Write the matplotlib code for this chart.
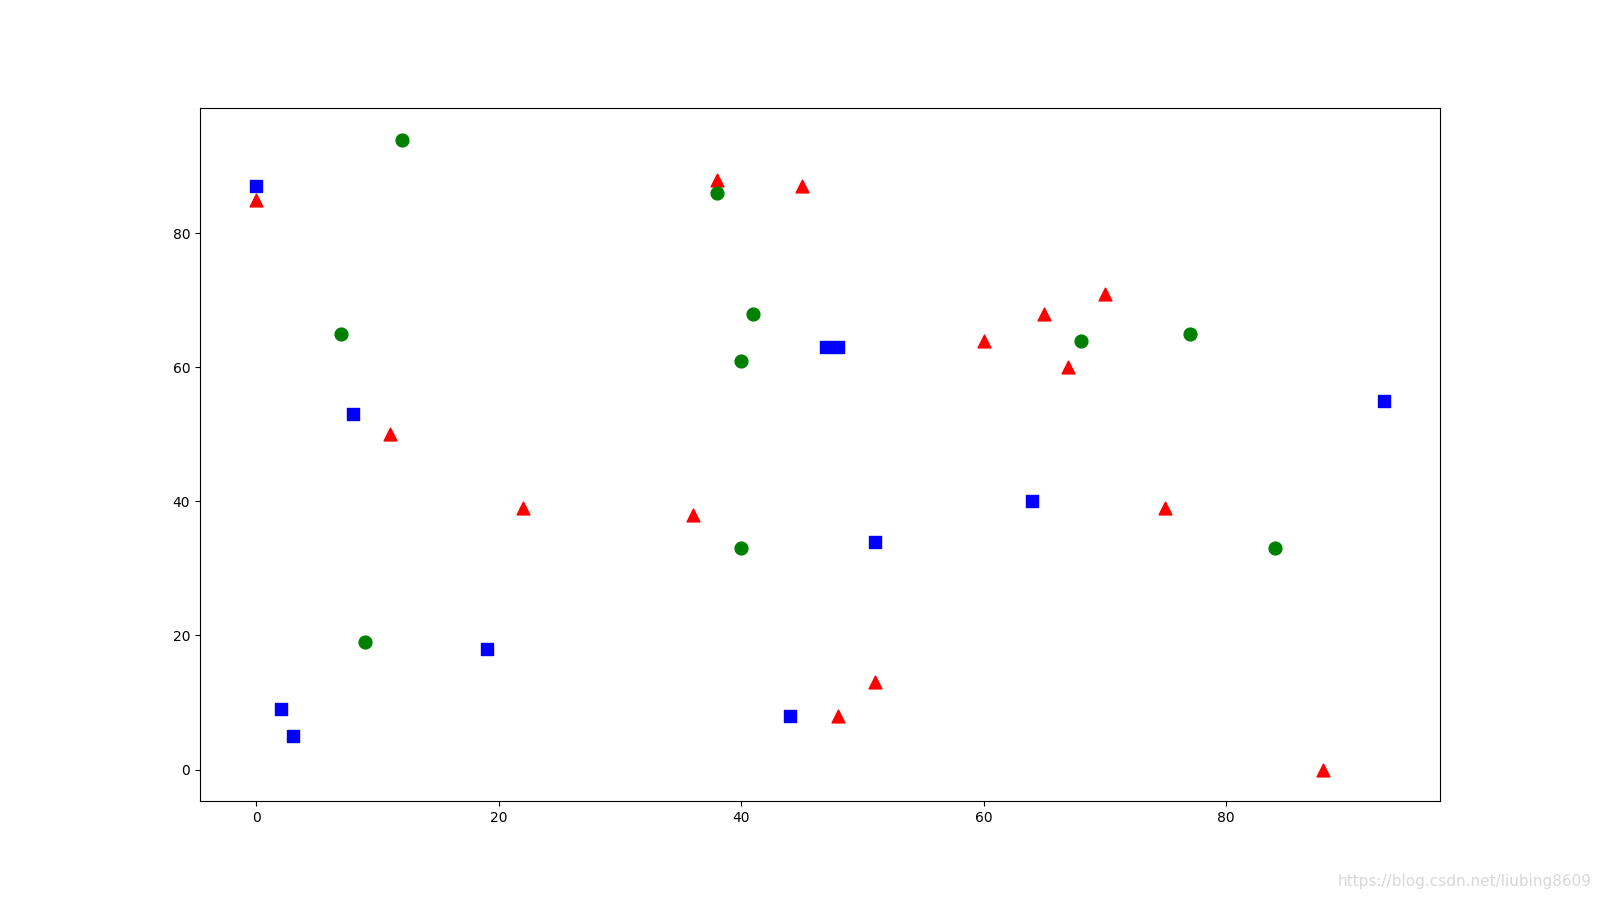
import matplotlib
matplotlib.use('Agg')
import matplotlib.pyplot as plt

# blue squares
sq_x = [0, 2, 3, 8, 19, 44, 47, 48, 51, 64, 93]
sq_y = [87, 9, 5, 53, 18, 8, 63, 63, 34, 40, 55]

# red triangles
tri_x = [0, 11, 22, 36, 38, 45, 48, 51, 60, 65, 67, 70, 75, 88]
tri_y = [85, 50, 39, 38, 88, 87, 8, 13, 64, 68, 60, 71, 39, 0]

# green circles
cir_x = [7, 9, 12, 38, 40, 40, 41, 68, 77, 84]
cir_y = [65, 19, 94, 86, 61, 33, 68, 64, 65, 33]

fig = plt.figure(figsize=(16, 9), dpi=100)
ax = fig.add_subplot(111)

ax.scatter(tri_x, tri_y, c='r', marker='^', s=85)
ax.scatter(cir_x, cir_y, c='g', marker='o', s=85)
ax.scatter(sq_x, sq_y, c='b', marker='s', s=85)

ax.set_xticks([0, 20, 40, 60, 80])
ax.set_yticks([0, 20, 40, 60, 80])

fig.text(0.995, 0.012, 'https://blog.csdn.net/liubing8609', ha='right', va='bottom',
         fontsize=11, color='#d8d8d8')

fig.savefig('out.png', dpi=100)
